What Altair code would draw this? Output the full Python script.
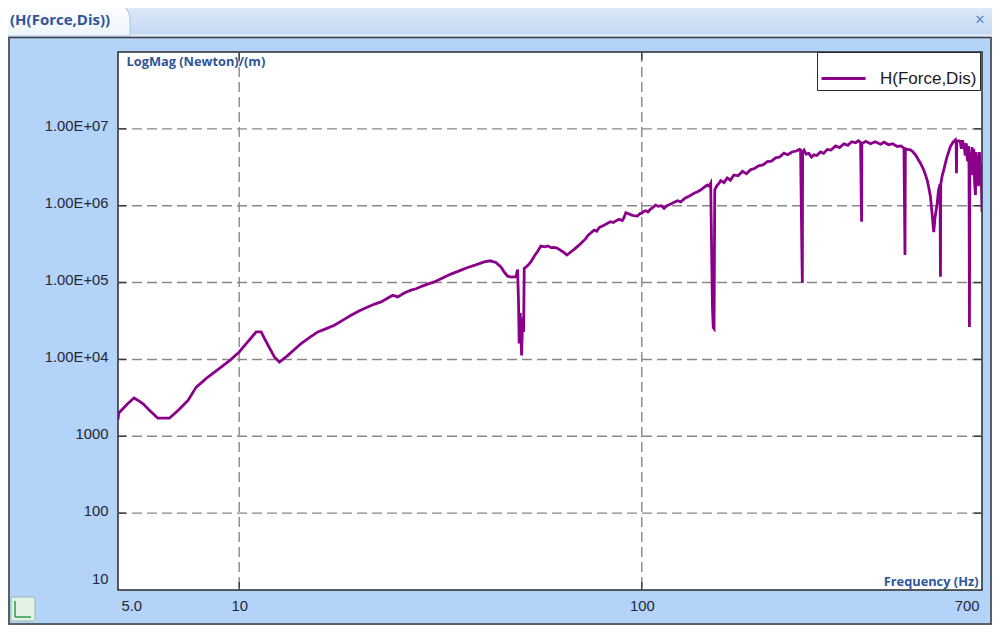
import altair as alt
import pandas as pd

# ---------------- data ----------------
series_name = "H(Force,Dis)"
freq_hz = [
    5.0, 5.02, 5.15, 5.3, 5.48, 5.6, 5.77, 6.0, 6.28, 6.71, 7.1, 7.46, 7.82, 8.1, 8.36, 8.7, 9.02, 9.5,
    10.0, 10.41, 10.7, 11.02, 11.34, 11.56, 11.9, 12.24, 12.59, 13.21, 14.25, 15.0, 15.68, 16.4, 17.24,
    18.1, 18.96, 19.9, 20.86, 21.7, 22.51, 23.3, 24.06, 24.76, 25.7, 26.72, 27.5, 28.5, 29.5, 30.52,
    32.0, 33.57, 35.2, 36.94, 38.7, 40.61, 42.0, 43.42, 44.68, 45.5, 46.42, 47.5, 48.67, 49.15, 49.4,
    49.6, 49.9, 50.29, 50.6, 50.87, 51.05, 52.0, 53.03, 54.2, 55.0, 56.15, 57.5, 58.5, 59.5, 60.59,
    61.5, 62.35, 63.8, 65.15, 66.5, 67.92, 69.5, 71.27, 72.5, 73.5, 74.8, 76.13, 77.3, 78.4, 79.6,
    80.8, 82.21, 83.6, 85.0, 86.4, 87.84, 89.5, 90.3, 91.26, 92.5, 94.0, 95.5, 97.57, 99.0, 100.0,
    101.0, 102.3, 103.6, 105.0, 106.6, 108.3, 110.0, 111.8, 113.6, 115.5, 118.0, 120.0, 122.7, 125.0,
    128.0, 131.0, 134.9, 137.5, 140.0, 142.5, 145.5, 147.0, 148.3, 149.8, 150.5, 151.2, 151.8, 153.0,
    154.1, 155.5, 157.0, 160.0, 163.0, 166.0, 169.4, 173.5, 178.0, 182.0, 186.5, 190.5, 195.0, 200.0,
    205.1, 210.0, 215.0, 220.0, 225.5, 230.5, 236.0, 242.0, 246.5, 248.0, 250.0, 250.5, 250.9, 253.0,
    256.0, 260.0, 264.0, 267.7, 272.0, 278.0, 283.0, 288.9, 295.0, 303.0, 310.0, 317.7, 325.0, 332.0,
    339.6, 345.0, 349.5, 351.2, 351.6, 352.0, 360.0, 370.0, 380.0, 391.8, 400.0, 410.0, 420.0, 431.0,
    440.0, 448.0, 450.6, 451.5, 458.0, 465.1, 472.0, 480.0, 486.0, 492.4, 502.0, 511.6, 516.5, 521.3,
    526.0, 531.2, 535.0, 541.7, 546.0, 550.6, 551.3, 552.0, 552.8, 557.0, 562.5, 572.0, 584.4, 593.0,
    601.5, 603.8, 604.9, 606.0, 612.0, 618.0, 622.0, 626.0, 632.0, 636.0, 640.0, 644.0, 648.0, 650.0,
    651.5, 653.0, 657.0, 661.0, 664.0, 667.8, 671.0, 674.3, 677.0, 680.0, 683.2, 686.0, 689.9, 693.0,
    696.0, 700.0,
]
mag = [
    1650, 2000, 2300, 2700, 3150, 2950, 2650, 2150, 1720, 1720, 2250, 2930, 4370, 5100, 5900, 6900, 7960, 9800,
    12500, 16100, 19000, 22800, 22800, 18700, 14000, 10700, 9250, 11300, 16100, 19500, 22800, 25000, 27800,
    32500, 37600, 43000, 48200, 52500, 56000, 62000, 68500, 65100, 73000, 79600, 83000, 90000, 96000, 102000,
    115000, 129000, 142000, 157000, 170000, 186000, 192000, 183000, 160000, 138000, 121000, 118000, 119000, 148000, 60000,
    16100, 40000, 11300, 35000, 22800, 153000, 165000, 186000, 225000, 250000, 298000, 292000, 300000, 285000, 287000,
    282000, 270000, 250000, 228000, 248000, 270000, 300000, 340000, 370000, 410000, 445000, 482000, 465000, 520000, 540000,
    560000, 590000, 620000, 605000, 640000, 665000, 640000, 700000, 811000, 790000, 760000, 745000, 734000, 790000, 800000,
    840000, 861000, 830000, 900000, 950000, 1020000, 980000, 1000000, 925000, 1000000, 1050000, 1100000, 1160000, 1120000,
    1250000, 1330000, 1450000, 1520000, 1600000, 1720000, 1860000, 1800000, 1960000, 48200, 26000, 25200, 1600000, 1750000,
    1860000, 1950000, 2120000, 2000000, 2300000, 2150000, 2510000, 2450000, 2800000, 2600000, 2950000, 3050000, 3300000, 3400000,
    3750000, 3800000, 4200000, 4300000, 4820000, 4600000, 5000000, 5150000, 5400000, 5320000, 200000, 99100, 5000000, 5300000,
    4700000, 4800000, 4300000, 4600000, 4500000, 5000000, 4800000, 5400000, 5300000, 6000000, 5700000, 6400000, 6100000, 6800000,
    6600000, 7000000, 6700000, 900000, 618000, 6400000, 6900000, 6400000, 6800000, 6300000, 6700000, 6200000, 6400000, 5900000,
    6000000, 5600000, 228000, 5500000, 5400000, 5320000, 5000000, 4500000, 4000000, 3570000, 2900000, 2160000, 1700000, 1310000,
    800000, 454000, 700000, 1070000, 1600000, 1900000, 400000, 119000, 1900000, 2400000, 2920000, 4200000, 5880000, 6700000,
    7190000, 6500000, 2640000, 6800000, 7000000, 6900000, 5500000, 7100000, 6000000, 4500000, 6500000, 3800000, 6000000, 3000000,
    26400, 5000000, 3200000, 5800000, 2500000, 5500000, 2000000, 1380000, 5000000, 2200000, 4500000, 1800000, 5000000, 2000000,
    3500000, 836000,
]

x_domain = [5, 700]
y_domain = [10, 1e8]
x_tick_values = [5, 10, 100, 700]
x_tick_labels = ["5.0", "10", "100", "700"]
y_tick_values = [10, 100, 1000, 1e4, 1e5, 1e6, 1e7]
y_tick_labels = ["10", "100", "1000", "1.00E+04", "1.00E+05", "1.00E+06", "1.00E+07"]
x_grid_values = [10, 100]
y_grid_values = [100, 1000, 1e4, 1e5, 1e6, 1e7]

x_title = "Frequency (Hz)"
y_title = "LogMag (Newton)/(m)"
tab_title = "(H(Force,Dis))"

# ---------------- styling ----------------
W, H = 864, 538
LINE_COLOR = "#8B008B"
GRID_COLOR = "#888888"
TICK_COLOR = "#3a3a3a"
LABEL_COLOR = "#262636"
TITLE_COLOR = "#2F5597"
FRAME_BLUE = "#B3D3F9"


def label_expr(values, labels):
    expr = "datum.label"
    for v, l in reversed(list(zip(values, labels))):
        expr = f"(abs(datum.value - {v}) < {v * 1e-6}) ? '{l}' : ({expr})"
    return expr


df = pd.DataFrame({"freq": freq_hz, "mag": mag, "series": series_name})
xs = alt.Scale(type="log", domain=x_domain, nice=False)
ys = alt.Scale(type="log", domain=y_domain, nice=False)

x_axis = alt.Axis(
    values=x_tick_values,
    labelExpr=label_expr(x_tick_values, x_tick_labels),
    grid=False, ticks=False, tickSize=0, domain=False,
    labelFlush=True, labelFlushOffset=-3, labelPadding=8,
    labelFont="Liberation Sans", labelFontSize=14.8, labelColor=LABEL_COLOR,
    title=x_title, titleX=W - 4, titleY=-9, titleAlign="right", titleBaseline="middle",
    titleFont="Open Sans", titleFontSize=12.8, titleFontWeight="bold", titleColor=TITLE_COLOR,
)
y_axis = alt.Axis(
    values=y_tick_values,
    labelExpr=label_expr(y_tick_values, y_tick_labels),
    grid=False, ticks=False, tickSize=0, domain=False,
    labelPadding=10,
    labelOffset={"condition": {"test": "datum.value <= 10", "value": -11}, "value": -2},
    labelFont="Liberation Sans", labelFontSize=14.8, labelColor=LABEL_COLOR,
    title=y_title, titleAngle=0, titleX=8, titleY=9, titleAlign="left", titleBaseline="middle",
    titleFont="Open Sans", titleFontSize=12.8, titleFontWeight="bold", titleColor=TITLE_COLOR,
)

line = alt.Chart(df).mark_line(strokeWidth=2.8, clip=True).encode(
    x=alt.X("freq:Q", scale=xs, axis=x_axis, title=x_title),
    y=alt.Y("mag:Q", scale=ys, axis=y_axis, title=y_title),
    color=alt.Color(
        "series:N",
        scale=alt.Scale(domain=[series_name], range=[LINE_COLOR]),
        legend=alt.Legend(
            title=None, orient="none", legendX=699, legendY=0,
            fillColor="white", strokeColor="#2a2a2a", padding=3, cornerRadius=0,
            symbolType="stroke", symbolSize=1936, symbolStrokeWidth=3,
            labelFont="Liberation Sans", labelFontSize=17, labelColor="#1a1a1a", labelOffset=13,
        ),
    ),
)

xgrid = alt.Chart(pd.DataFrame({"g": x_grid_values})).mark_rule(
    color=GRID_COLOR, strokeWidth=1.4, strokeDash=[10, 5]
).encode(x=alt.X("g:Q", scale=xs, axis=x_axis, title=x_title))
ygrid = alt.Chart(pd.DataFrame({"g": y_grid_values})).mark_rule(
    color=GRID_COLOR, strokeWidth=1.4, strokeDash=[10, 5]
).encode(y=alt.Y("g:Q", scale=ys, axis=y_axis, title=y_title))

tick_style = dict(color=TICK_COLOR, strokeWidth=1.4)
xt = alt.Chart(pd.DataFrame({"t": x_grid_values}))
yt = alt.Chart(pd.DataFrame({"t": y_grid_values}))
ticks = [
    xt.mark_rule(**tick_style).encode(x=alt.X("t:Q", scale=xs, axis=x_axis, title=x_title), y=alt.value(H - 8), y2=alt.value(H)),
    xt.mark_rule(**tick_style).encode(x=alt.X("t:Q", scale=xs, axis=x_axis, title=x_title), y=alt.value(0), y2=alt.value(8)),
    yt.mark_rule(**tick_style).encode(y=alt.Y("t:Q", scale=ys, axis=y_axis, title=y_title), x=alt.value(0), x2=alt.value(8)),
    yt.mark_rule(**tick_style).encode(y=alt.Y("t:Q", scale=ys, axis=y_axis, title=y_title), x=alt.value(W - 8), x2=alt.value(W)),
]

# ---------------- window frame decoration ----------------
one = alt.Chart(pd.DataFrame({"k": [0]}))
band_grad = alt.LinearGradient(
    gradient="linear", x1=0, y1=0, x2=0, y2=1,
    stops=[alt.GradientStop(color="#E4EEFA", offset=0), alt.GradientStop(color="#C4D8F2", offset=1)],
)
tab_grad = alt.LinearGradient(
    gradient="linear", x1=0, y1=0, x2=0, y2=1,
    stops=[alt.GradientStop(color="#FFFFFF", offset=0), alt.GradientStop(color="#EEF4FC", offset=1)],
)
deco = [
    one.mark_rect(fill=band_grad).encode(x=alt.value(-118), x2=alt.value(882), y=alt.value(-52), y2=alt.value(-18)),
    one.mark_rect(fill="#DCE8F8").encode(x=alt.value(-118), x2=alt.value(882), y=alt.value(-18), y2=alt.value(-15)),
    one.mark_rect(fill=tab_grad, stroke="#A9C1E0", strokeWidth=1, cornerRadiusTopLeft=6, cornerRadiusTopRight=16).encode(
        x=alt.value(-115), x2=alt.value(12), y=alt.value(-49), y2=alt.value(-16)),
    one.mark_text(text=tab_title, align="left", baseline="middle", font="Open Sans", fontSize=15,
                  fontWeight="bold", color=TITLE_COLOR).encode(x=alt.value(-108), y=alt.value(-32)),
    one.mark_text(text="\u2715", align="center", baseline="middle", font="DejaVu Sans", fontSize=13,
                  fontWeight="bold", color="#4B8BD6").encode(x=alt.value(862), y=alt.value(-32)),
    one.mark_rect(fillOpacity=0, stroke="#3a3a3a", strokeWidth=1.5).encode(
        x=alt.value(-109), x2=alt.value(873), y=alt.value(-14.5), y2=alt.value(572)),
    one.mark_rect(fill="#E3F1E6", stroke="#9DB8A5", strokeWidth=1, cornerRadius=2).encode(
        x=alt.value(-107), x2=alt.value(-83), y=alt.value(545), y2=alt.value(569)),
    one.mark_rule(color="#2E9B4E", strokeWidth=1.5).encode(
        x=alt.value(-103), x2=alt.value(-103), y=alt.value(549), y2=alt.value(565)),
    one.mark_rule(color="#2E9B4E", strokeWidth=1.5).encode(
        x=alt.value(-103), x2=alt.value(-87), y=alt.value(565), y2=alt.value(565)),
]

chart = alt.layer(*deco, xgrid, ygrid, *ticks, line).properties(
    width=W, height=H,
    autosize=alt.AutoSizeParams(type="none"),
    padding={"left": 110, "top": 44, "right": 10, "bottom": 35},
    background=FRAME_BLUE,
).configure_view(fill="white", stroke="#2a2a2a", strokeWidth=1.5)

chart.save("out.html", embed_options={"renderer": "svg", "actions": False})
